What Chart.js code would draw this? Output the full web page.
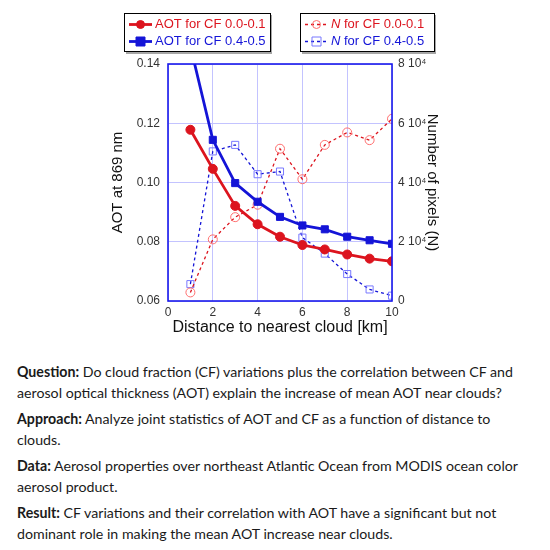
<!DOCTYPE html>
<html>
<head>
<meta charset="utf-8">
<script src="https://cdn.jsdelivr.net/npm/chart.js@4"></script>
<style>
  body { margin: 0; background: #fff; width: 550px; height: 550px; overflow: hidden; }
  #wrap { position: absolute; left: 0; top: 0; width: 550px; height: 345px; }
  #notes { position: absolute; left: 17px; top: 361px; font-family: Lato, "Open Sans", sans-serif; font-size: 14.2px; line-height: 21px; color: #1a1a1a; white-space: nowrap; }
  #notes p { margin: 0 0 5px 0; }
</style>
</head>
<body>
<div id="wrap"><canvas id="aot_chart" width="550" height="345"></canvas></div>
<div id="notes">
  <p><b>Question:</b> Do cloud fraction (CF) variations plus the correlation between CF and<br>aerosol optical thickness (AOT) explain the increase of mean AOT near clouds?</p>
  <p><b>Approach:</b> Analyze joint statistics of AOT and CF as a function of distance to<br>clouds.</p>
  <p><b>Data:</b> Aerosol properties over northeast Atlantic Ocean from MODIS ocean color<br>aerosol product.</p>
  <p><b>Result:</b> CF variations and their correlation with AOT have a significant but not<br>dominant role in making the mean AOT increase near clouds.</p>
</div>
<script>
// ------------- data -------------
const distance = [1, 2, 3, 4, 5, 6, 7, 8, 9, 10]; // km
const aotLowCF = [0.1178, 0.1046, 0.0921, 0.0859, 0.0817, 0.0789, 0.0774, 0.0757, 0.0743, 0.0734];
const aotMidCF = [0.146, 0.1144, 0.0998, 0.0935, 0.0884, 0.0855, 0.0842, 0.0817, 0.0805, 0.0793];
const pixelsLowCF = [2900, 20800, 28300, 32500, 51400, 41100, 52700, 56900, 54300, 61500];
const pixelsMidCF = [5700, 50500, 52700, 42800, 43700, 21400, 16000, 9100, 3900, 1800];
const xTicks = [0, 2, 4, 6, 8, 10];
const aotTicks = [0.06, 0.08, 0.10, 0.12, 0.14];
const pixelTicks = [0, 20000, 40000, 60000, 80000];

const RED = 'rgb(220, 20, 30)';
const BLUE = 'rgb(20, 20, 215)';
const LIGHT_RED = 'rgb(255, 110, 110)';
const LIGHT_BLUE = 'rgb(120, 120, 255)';
const FRAME = 'rgb(25, 25, 235)';
const GRID = 'rgb(195, 195, 255)';

const pts = (ys) => distance.map((x, i) => ({ x: x, y: ys[i] }));

// frame around the plot + the two boxed legends
const decorations = {
    id: 'decorations',
    afterDatasetsDraw(chart) {
        const c = chart.ctx, a = chart.chartArea;
        c.save();
        c.strokeStyle = FRAME;
        c.lineWidth = 1.6;
        c.strokeRect(a.left, a.top, a.right - a.left, a.bottom - a.top);
        c.restore();
    },
    afterDraw(chart) {
        const c = chart.ctx;
        const ds = chart.data.datasets;
        const boxes = [
            { x: 124, w: 146, items: [0, 1] },
            { x: 300, w: 134, items: [2, 3] }
        ];
        c.save();
        boxes.forEach(b => {
            c.fillStyle = 'rgba(0,0,0,0.35)';
            c.fillRect(b.x + 2, 15, b.w, 39);
            c.fillStyle = '#fff';
            c.fillRect(b.x, 13, b.w, 39);
            c.strokeStyle = '#000';
            c.lineWidth = 1;
            c.strokeRect(b.x + 0.5, 13.5, b.w, 38);
            b.items.forEach((k, row) => {
                const d = ds[k];
                const y = row === 0 ? 24.5 : 41.5;
                const x0 = b.x + 5, x1 = b.x + 28, xm = (x0 + x1) / 2;
                c.strokeStyle = d.borderColor;
                c.lineWidth = d.borderWidth;
                c.setLineDash(d.borderDash || []);
                c.beginPath(); c.moveTo(x0, y); c.lineTo(x1, y); c.stroke();
                c.setLineDash([]);
                c.lineWidth = d.pointBorderWidth;
                c.strokeStyle = d.pointBorderColor;
                c.fillStyle = d.pointBackgroundColor;
                const r = d.pointRadius - 0.5;
                c.beginPath();
                if (d.pointStyle === 'rect') c.rect(xm - r, y - r, 2 * r, 2 * r);
                else c.arc(xm, y, r, 0, Math.PI * 2);
                if (d.pointBackgroundColor !== 'rgba(0,0,0,0)') c.fill();
                c.stroke();
                c.fillStyle = d.borderColor;
                c.textBaseline = 'middle';
                let tx = x1 + 3;
                if (d.italicN) {
                    c.font = 'italic 13px "Liberation Sans", Arial, sans-serif';
                    c.fillText('N', tx, y);
                    tx += c.measureText('N').width;
                }
                c.font = '13px "Liberation Sans", Arial, sans-serif';
                c.fillText(d.label, tx, y);
            });
        });
        c.restore();
    }
};

const tickFont = { family: '"Liberation Sans", Arial, sans-serif', size: 12 };
const titleFont = { family: '"Liberation Sans", Arial, sans-serif', size: 15 };

new Chart(document.getElementById('aot_chart'), {
    type: 'line',
    data: {
        datasets: [{
            label: 'AOT for CF 0.0-0.1',
            data: pts(aotLowCF),
            yAxisID: 'y',
            borderColor: RED, borderWidth: 2.8,
            pointStyle: 'circle', pointRadius: 4.5, pointBorderWidth: 1,
            pointBackgroundColor: RED, pointBorderColor: RED
        }, {
            label: 'AOT for CF 0.4-0.5',
            data: pts(aotMidCF),
            yAxisID: 'y',
            borderColor: BLUE, borderWidth: 2.8,
            pointStyle: 'rect', pointRadius: 5, pointBorderWidth: 1,
            pointBackgroundColor: BLUE, pointBorderColor: BLUE
        }, {
            label: ' for CF 0.0-0.1',
            italicN: true,
            data: pts(pixelsLowCF),
            yAxisID: 'y1',
            borderColor: RED, borderWidth: 1.3, borderDash: [3, 3],
            pointStyle: 'circle', pointRadius: 4.5, pointBorderWidth: 1,
            pointBackgroundColor: 'rgba(0,0,0,0)', pointBorderColor: LIGHT_RED
        }, {
            label: ' for CF 0.4-0.5',
            italicN: true,
            data: pts(pixelsMidCF),
            yAxisID: 'y1',
            borderColor: BLUE, borderWidth: 1.3, borderDash: [3, 3],
            pointStyle: 'rect', pointRadius: 5, pointBorderWidth: 1,
            pointBackgroundColor: 'rgba(0,0,0,0)', pointBorderColor: LIGHT_BLUE
        }]
    },
    options: {
        responsive: false,
        animation: false,
        layout: { padding: { top: 64, left: 100, right: 100, bottom: 0 } },
        plugins: { legend: { display: false }, tooltip: { enabled: false } },
        scales: {
            x: {
                type: 'linear', min: 0, max: 10,
                afterBuildTicks: s => { s.ticks = xTicks.map(v => ({ value: v })); },
                afterFit: s => { s.height = 44; },
                ticks: { font: tickFont, color: '#333', padding: 4, maxRotation: 0 },
                grid: { color: GRID, drawTicks: false, lineWidth: 1 },
                border: { display: false },
                title: { display: true, text: 'Distance to nearest cloud [km]', font: { family: titleFont.family, size: 16 }, color: '#111', padding: { top: 0, bottom: 8 } }
            },
            y: {
                position: 'left', min: 0.06, max: 0.14,
                afterBuildTicks: s => { s.ticks = aotTicks.map(v => ({ value: v })); },
                afterFit: s => { s.width = 68; },
                ticks: { font: tickFont, color: '#333', padding: 8, callback: v => v.toFixed(2) },
                grid: { color: GRID, drawTicks: false, lineWidth: 1 },
                border: { display: false },
                title: { display: true, text: 'AOT at 869 nm', font: titleFont, color: '#111', padding: { top: 9, bottom: 0 } }
            },
            y1: {
                position: 'right', min: 0, max: 80000,
                afterBuildTicks: s => { s.ticks = pixelTicks.map(v => ({ value: v })); },
                afterFit: s => { s.width = 58; },
                ticks: { font: tickFont, color: '#333', padding: 6, callback: v => v === 0 ? '0' : (v / 10000) + ' 10\u2074' },
                grid: { drawOnChartArea: false, drawTicks: false },
                border: { display: false },
                title: { display: true, text: 'Number of pixels (N)', font: titleFont, color: '#111', padding: { top: 9, bottom: 0 } }
            }
        }
    },
    plugins: [decorations]
});
</script>
</body>
</html>
